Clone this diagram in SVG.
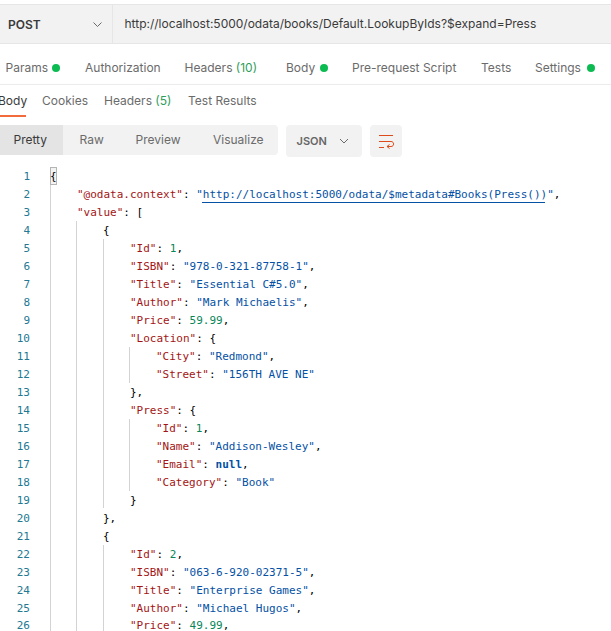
<svg xmlns="http://www.w3.org/2000/svg" width="611" height="631" viewBox="0 0 611 631">
<style>
text{white-space:pre}
.ui{font-family:Inter,"Noto Sans",sans-serif;font-size:12px;fill:#6b6b6b}
.b{font-weight:600;fill:#505050}
.g{fill:#0cbb52}
.t{fill:#2f9e5b}
.ln{font-family:"DejaVu Sans Mono",monospace;font-size:11px;fill:#237893;text-anchor:end}
.c{font-family:"DejaVu Sans Mono",monospace;font-size:11px;fill:#000}
.k{fill:#a31515}.s{fill:#0451a5}.n{fill:#098658}.w{fill:#0451a5;font-weight:700}
.i{stroke:#d3d3d3;stroke-width:1;fill:none}
.pill{fill:#f2f2f2}
</style>
<rect width="611" height="631" fill="#fff"/>
<g id="url-bar">
<rect x="0" y="5" width="611" height="38" fill="#f2f2f2"/>
<path d="M0 4.500H611M0 43.500H611M112.500 5V43" stroke="#e6e6e6"/>
<text class="ui b" x="8" y="29" style="font-size:12px;fill:#3a3a3a">POST</text>
<path d="M93.500 22.500l4 4 4-4" fill="none" stroke="#6b6b6b"/>
<text class="ui" x="124.500" y="28" style="fill:#3a3a3a">http://localhost:5000/odata/books/Default.LookupByIds?$expand=Press</text>
</g>
<g id="request-tabs">
<text class="ui" x="5.500" y="72">Params</text><circle class="g" cx="56" cy="68" r="4"/>
<text class="ui" x="85" y="72">Authorization</text>
<text class="ui" x="184.500" y="72">Headers <tspan class="t">(10)</tspan></text>
<text class="ui" x="286" y="72">Body</text><circle class="g" cx="324" cy="68" r="4"/>
<text class="ui" x="352" y="72">Pre-request Script</text>
<text class="ui" x="481" y="72">Tests</text>
<text class="ui" x="535" y="72">Settings</text><circle class="g" cx="591" cy="68" r="4"/>
<path d="M0 84.500H611" stroke="#ececec"/>
</g>
<g id="response-tabs">
<text class="ui" x="-2" y="105" style="fill:#3a3a3a">Body</text>
<rect x="0" y="115" width="26" height="2" fill="#f26b3a"/>
<text class="ui" x="42" y="105">Cookies</text>
<text class="ui" x="104" y="105">Headers <tspan class="t">(5)</tspan></text>
<text class="ui" x="188" y="105">Test Results</text>
</g>
<g id="view-toolbar">
<rect class="pill" x="0" y="125" width="278" height="30" rx="4"/>
<path d="M0 125H63V155H0Z" fill="#e4e4e4"/>
<text class="ui" x="13.500" y="144" style="fill:#3a3a3a">Pretty</text>
<text class="ui" x="79.500" y="144">Raw</text>
<text class="ui" x="135.500" y="144">Preview</text>
<text class="ui" x="213" y="144">Visualize</text>
<rect class="pill" x="286" y="125" width="76" height="32" rx="4"/>
<text class="ui b" x="296.500" y="145" style="font-size:11px;fill:#666">JSON</text>
<path d="M340 139l4 4 4-4" fill="none" stroke="#6b6b6b"/>
<rect class="pill" x="370" y="125" width="32" height="32" rx="4"/>
<path d="M379 135.500H393M379 141.500H391c3.500 0 3.500 5 0 5h-4M379 147.500H384M389.500 144.500l-2.500 2 2.500 2" fill="none" stroke="#dd4a1c"/>
</g>
<g id="gutter">
<text class="ln" x="30" y="180">1</text><text class="ln" x="30" y="198">2</text><text class="ln" x="30" y="216">3</text><text class="ln" x="30" y="234">4</text><text class="ln" x="30" y="252">5</text><text class="ln" x="30" y="270">6</text><text class="ln" x="30" y="288">7</text><text class="ln" x="30" y="306">8</text><text class="ln" x="30" y="324">9</text><text class="ln" x="30" y="342">10</text><text class="ln" x="30" y="360">11</text><text class="ln" x="30" y="378">12</text><text class="ln" x="30" y="396">13</text><text class="ln" x="30" y="414">14</text><text class="ln" x="30" y="432">15</text><text class="ln" x="30" y="450">16</text><text class="ln" x="30" y="468">17</text><text class="ln" x="30" y="486">18</text><text class="ln" x="30" y="504">19</text><text class="ln" x="30" y="522">20</text><text class="ln" x="30" y="540">21</text><text class="ln" x="30" y="558">22</text><text class="ln" x="30" y="576">23</text><text class="ln" x="30" y="594">24</text><text class="ln" x="30" y="612">25</text><text class="ln" x="30" y="629">26</text>
</g>
<g id="indent-guides">
<path class="i" d="M50.500 185V631M76.500 221V631M103.500 239V508M103.500 545V631M129.500 347V383M129.500 419V491"/>
<rect x="50.500" y="167.500" width="6" height="17" fill="#f3f3f3" stroke="#b5b5b5"/>
</g>
<g id="code">
<text class="c" x="50" y="180">{</text>
<text class="c" x="77" y="198"><tspan class="k">"@odata.context"</tspan>: <tspan class="s">"http://localhost:5000/odata/$metadata#Books(Press())"</tspan>,</text>
<path d="M202 202.500H545" stroke="#0451a5" stroke-width="1.200"/>
<text class="c" x="77" y="216"><tspan class="k">"value"</tspan>: [</text>
<text class="c" x="103" y="234">{</text>
<text class="c" x="130" y="252"><tspan class="k">"Id"</tspan>: <tspan class="n">1</tspan>,</text>
<text class="c" x="130" y="270"><tspan class="k">"ISBN"</tspan>: <tspan class="s">"978-0-321-87758-1"</tspan>,</text>
<text class="c" x="130" y="288"><tspan class="k">"Title"</tspan>: <tspan class="s">"Essential C#5.0"</tspan>,</text>
<text class="c" x="130" y="306"><tspan class="k">"Author"</tspan>: <tspan class="s">"Mark Michaelis"</tspan>,</text>
<text class="c" x="130" y="324"><tspan class="k">"Price"</tspan>: <tspan class="n">59.99</tspan>,</text>
<text class="c" x="130" y="342"><tspan class="k">"Location"</tspan>: {</text>
<text class="c" x="156" y="360"><tspan class="k">"City"</tspan>: <tspan class="s">"Redmond"</tspan>,</text>
<text class="c" x="156" y="378"><tspan class="k">"Street"</tspan>: <tspan class="s">"156TH AVE NE"</tspan></text>
<text class="c" x="130" y="396">},</text>
<text class="c" x="130" y="414"><tspan class="k">"Press"</tspan>: {</text>
<text class="c" x="156" y="432"><tspan class="k">"Id"</tspan>: <tspan class="n">1</tspan>,</text>
<text class="c" x="156" y="450"><tspan class="k">"Name"</tspan>: <tspan class="s">"Addison-Wesley"</tspan>,</text>
<text class="c" x="156" y="468"><tspan class="k">"Email"</tspan>: <tspan class="w">null</tspan>,</text>
<text class="c" x="156" y="486"><tspan class="k">"Category"</tspan>: <tspan class="s">"Book"</tspan></text>
<text class="c" x="130" y="504">}</text>
<text class="c" x="103" y="522">},</text>
<text class="c" x="103" y="540">{</text>
<text class="c" x="130" y="558"><tspan class="k">"Id"</tspan>: <tspan class="n">2</tspan>,</text>
<text class="c" x="130" y="576"><tspan class="k">"ISBN"</tspan>: <tspan class="s">"063-6-920-02371-5"</tspan>,</text>
<text class="c" x="130" y="594"><tspan class="k">"Title"</tspan>: <tspan class="s">"Enterprise Games"</tspan>,</text>
<text class="c" x="130" y="612"><tspan class="k">"Author"</tspan>: <tspan class="s">"Michael Hugos"</tspan>,</text>
<text class="c" x="130" y="629"><tspan class="k">"Price"</tspan>: <tspan class="n">49.99</tspan>,</text>
</g>
</svg>
